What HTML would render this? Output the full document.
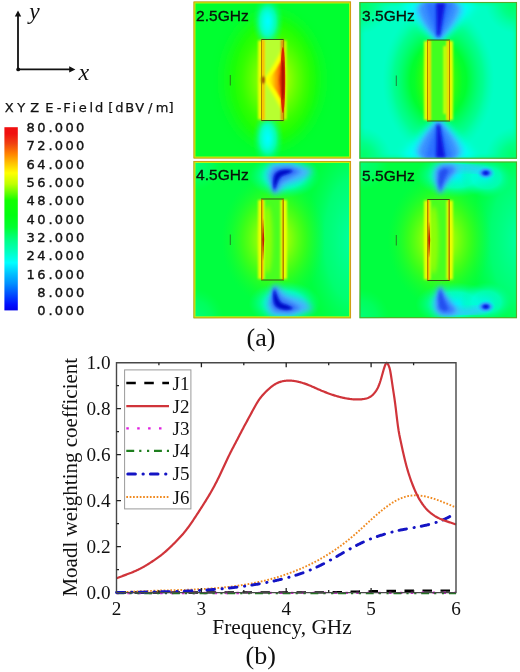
<!DOCTYPE html>
<html><head><meta charset="utf-8"><style>
html,body{margin:0;padding:0;background:#fff;}
body{width:520px;height:672px;overflow:hidden;position:relative;}
svg{position:absolute;left:0;top:0;}
.tm{font-family:"Liberation Serif",serif;font-size:19.2px;fill:#111;}
.cb{font-family:"DejaVu Sans",sans-serif;font-size:13px;fill:#111;stroke:#111;stroke-width:0.38px;}
.cbt{font-family:"DejaVu Sans",sans-serif;font-size:13px;fill:#111;stroke:#111;stroke-width:0.25px;}
.it{font-family:"Liberation Serif",serif;font-style:italic;font-size:22px;fill:#111;}
.pl{font-family:"Liberation Sans",sans-serif;font-size:15.5px;fill:#0a140a;stroke:#0a140a;stroke-width:0.35px;}
</style></head><body>
<svg width="520" height="672" viewBox="0 0 520 672">
<defs>
<filter id="b05" x="-50%" y="-50%" width="200%" height="200%"><feGaussianBlur stdDeviation="0.6"/></filter>
<filter id="b1" x="-50%" y="-50%" width="200%" height="200%"><feGaussianBlur stdDeviation="1"/></filter>
<filter id="b15" x="-50%" y="-50%" width="200%" height="200%"><feGaussianBlur stdDeviation="1.5"/></filter>
<filter id="b2" x="-50%" y="-50%" width="200%" height="200%"><feGaussianBlur stdDeviation="2"/></filter>
<filter id="b3" x="-50%" y="-50%" width="200%" height="200%"><feGaussianBlur stdDeviation="3"/></filter>
<filter id="b4" x="-50%" y="-50%" width="200%" height="200%"><feGaussianBlur stdDeviation="4"/></filter>
<filter id="b5" x="-50%" y="-50%" width="200%" height="200%"><feGaussianBlur stdDeviation="5"/></filter>
<filter id="b8" x="-50%" y="-50%" width="200%" height="200%"><feGaussianBlur stdDeviation="8"/></filter>
<radialGradient id="halo1" ><stop offset="0" stop-color="#b8ff00" stop-opacity="1"/><stop offset="0.3" stop-color="#98ff00" stop-opacity="0.95"/><stop offset="0.6" stop-color="#58ff00" stop-opacity="0.75"/><stop offset="0.85" stop-color="#28ff00" stop-opacity="0.35"/><stop offset="1" stop-color="#00ff00" stop-opacity="0"/></radialGradient>
<radialGradient id="cyan1" ><stop offset="0" stop-color="#00ffff" stop-opacity="1"/><stop offset="0.5" stop-color="#00ffd8" stop-opacity="0.7"/><stop offset="1" stop-color="#00ff60" stop-opacity="0"/></radialGradient>
<radialGradient id="green2" ><stop offset="0" stop-color="#30ff00" stop-opacity="1"/><stop offset="0.5" stop-color="#00ff30" stop-opacity="1"/><stop offset="0.8" stop-color="#00ff70" stop-opacity="0.6"/><stop offset="1" stop-color="#00ffa0" stop-opacity="0"/></radialGradient>
<radialGradient id="yg2" ><stop offset="0" stop-color="#a0ff00" stop-opacity="1"/><stop offset="0.5" stop-color="#60ff00" stop-opacity="0.7"/><stop offset="1" stop-color="#30ff00" stop-opacity="0"/></radialGradient>
<radialGradient id="yg3" ><stop offset="0" stop-color="#c0ff00" stop-opacity="1"/><stop offset="0.3" stop-color="#a0ff00" stop-opacity="0.9"/><stop offset="0.6" stop-color="#60ff00" stop-opacity="0.6"/><stop offset="1" stop-color="#20ff20" stop-opacity="0"/></radialGradient>
<radialGradient id="cyanS" ><stop offset="0" stop-color="#00f0ff" stop-opacity="1"/><stop offset="0.55" stop-color="#00ffe0" stop-opacity="0.75"/><stop offset="1" stop-color="#00ff90" stop-opacity="0"/></radialGradient>
<radialGradient id="cornG" ><stop offset="0" stop-color="#00ff50" stop-opacity="1"/><stop offset="0.5" stop-color="#00ff70" stop-opacity="0.7"/><stop offset="1" stop-color="#00ff90" stop-opacity="0"/></radialGradient>
<radialGradient id="aqua" ><stop offset="0" stop-color="#00ffa0" stop-opacity="1"/><stop offset="0.6" stop-color="#00ff90" stop-opacity="0.6"/><stop offset="1" stop-color="#00ff70" stop-opacity="0"/></radialGradient>
<radialGradient id="lblue" ><stop offset="0" stop-color="#50a8ff" stop-opacity="1"/><stop offset="0.5" stop-color="#30d0ff" stop-opacity="0.8"/><stop offset="1" stop-color="#00ffff" stop-opacity="0"/></radialGradient>
<radialGradient id="blueDot" ><stop offset="0" stop-color="#0818c8" stop-opacity="1"/><stop offset="0.22" stop-color="#1038f0" stop-opacity="1"/><stop offset="0.5" stop-color="#3a90ff" stop-opacity="0.85"/><stop offset="1" stop-color="#00ffff" stop-opacity="0"/></radialGradient>
<linearGradient id="fanO" x1="0" y1="0" x2="1" y2="0"><stop offset="0" stop-color="#ffe000" stop-opacity="0"/><stop offset="0.45" stop-color="#ffb000"/><stop offset="0.8" stop-color="#ff6000"/><stop offset="1" stop-color="#f03000"/></linearGradient>
</defs>
<clipPath id="cp1"><rect x="0" y="0" width="157.5" height="157.0"/></clipPath>
<g transform="translate(193.5,1.5)">
<g clip-path="url(#cp1)">
<rect x="0" y="0" width="157.5" height="157.0" fill="#00ff30"/>
<ellipse cx="78.9" cy="78.5" rx="46" ry="64" fill="#20ff00" filter="url(#b8)"/>
<ellipse cx="80.9" cy="78.5" rx="46" ry="64" fill="url(#halo1)"/>
<g>
<ellipse cx="74.5" cy="20" rx="16" ry="28" fill="url(#cyan1)"/>
<ellipse cx="73.5" cy="22" rx="5.5" ry="14" fill="#00ffff" opacity="0.7" filter="url(#b3)"/>
</g>
<g transform="translate(0,157.0) scale(1,-1)">
<ellipse cx="74.5" cy="20" rx="16" ry="28" fill="url(#cyan1)"/>
<ellipse cx="73.5" cy="22" rx="5.5" ry="14" fill="#00ffff" opacity="0.7" filter="url(#b3)"/>
</g>
<rect x="68.0" y="38.0" width="22.0" height="81.0" fill="#b8ff30"/>
<g filter="url(#b1)" opacity="0.95">
<rect x="64.6" y="39.0" width="6.4" height="79.0" fill="#f4ff00"/>
<rect x="90.0" y="39.0" width="3" height="79.0" fill="#e0ff00"/>
</g>
<g filter="url(#b15)"><path d="M70,78.5 Q82,62 90,44 L90,113 Q82,95 70,78.5 Z" fill="#ffff00"/></g>
<g filter="url(#b1)"><path d="M74,78.5 Q84,68 90,54 L90,103 Q84,89 74,78.5 Z" fill="url(#fanO)"/><path d="M90,44 L85.5,78.5 L90,113 Z" fill="#d01c00"/><rect x="87.8" y="38" width="2.2" height="81" fill="#f06000"/><rect x="68.5" y="38" width="2.3" height="81" fill="#ffa800"/><ellipse cx="69.6" cy="78.5" rx="1.6" ry="4" fill="#a03000"/></g>
<path d="M67.6,38.0 H90.4 M67.6,119.0 H90.4" stroke="#304018" stroke-width="0.9"/>
<path d="M68.0,38.0 V119.0 M90.0,38.0 V119.0" stroke="#a87800" stroke-width="1" opacity="0.9"/>
<ellipse cx="89.4" cy="78.5" rx="2.3" ry="33" fill="#d82800" filter="url(#b05)"/>
<ellipse cx="89.4" cy="78.5" rx="1.3" ry="20" fill="#b01800" filter="url(#b05)"/>
<path d="M36.8,73.5 V84" stroke="#304020" stroke-width="0.8" opacity="0.85"/>
</g>
<rect x="1.2" y="1.2" width="155.1" height="154.6" fill="none" stroke="#e8f000" stroke-width="1.6" opacity="0.8"/>
<rect x="0.4" y="0.4" width="156.7" height="156.2" fill="none" stroke="#e09010" stroke-width="0.9"/>
<text x="2.6" y="19.0" class="pl">2.5GHz</text>
</g>
<clipPath id="cp2"><rect x="0" y="0" width="157.5" height="156.7"/></clipPath>
<g transform="translate(359.5,2.0)">
<g clip-path="url(#cp2)">
<rect x="0" y="0" width="157.5" height="156.7" fill="#00ffc4"/>
<ellipse cx="0.0" cy="0.0" rx="32" ry="32" fill="url(#cornG)"/>
<ellipse cx="157.5" cy="0.0" rx="32" ry="32" fill="url(#cornG)"/>
<ellipse cx="0.0" cy="156.7" rx="32" ry="32" fill="url(#cornG)"/>
<ellipse cx="157.5" cy="156.7" rx="32" ry="32" fill="url(#cornG)"/>
<rect x="0" y="0" width="157.5" height="156.7" fill="none" stroke="#00ff80" stroke-width="3" filter="url(#b2)"/>
<ellipse cx="78.9" cy="78.5" rx="56" ry="76" fill="url(#green2)"/>
<ellipse cx="78.9" cy="78.5" rx="24" ry="50" fill="url(#yg2)"/>
<g>
<path d="M78.9,44 L40,0 L118,0 Z" fill="#00ffff" filter="url(#b5)"/>
<path d="M78.9,39 Q62,24 56,8 Q57,1 64,0 L95,0 Q102,1 103,8 Q97,24 78.9,39 Z" fill="#48b0ff" filter="url(#b3)"/>
<path d="M78.9,37 Q64,22 60,6 Q62,1 66,0 L93,0 Q97,1 98,6 Q94,22 78.9,37 Z" fill="#3890ff" filter="url(#b2)"/>
<path d="M78.9,36 Q70,18 66,1 L93,1 Q88,18 78.9,36 Z" fill="#2a70ff" filter="url(#b2)"/>
<path d="M77.3,34 L80.3,34 L86,1 L76.5,1 Z" fill="#0818e0" filter="url(#b15)"/>
</g>
<g transform="translate(0,156.7) scale(1,-1)">
<path d="M78.9,44 L40,0 L118,0 Z" fill="#00ffff" filter="url(#b5)"/>
<path d="M78.9,39 Q62,24 56,8 Q57,1 64,0 L95,0 Q102,1 103,8 Q97,24 78.9,39 Z" fill="#48b0ff" filter="url(#b3)"/>
<path d="M78.9,37 Q64,22 60,6 Q62,1 66,0 L93,0 Q97,1 98,6 Q94,22 78.9,37 Z" fill="#3890ff" filter="url(#b2)"/>
<path d="M78.9,36 Q70,18 66,1 L93,1 Q88,18 78.9,36 Z" fill="#2a70ff" filter="url(#b2)"/>
<path d="M77.3,34 L80.3,34 L86,1 L76.5,1 Z" fill="#0818e0" filter="url(#b15)"/>
</g>
<rect x="68.0" y="38.0" width="22.0" height="81.0" fill="#40ff20"/>
<g filter="url(#b1)" opacity="0.95">
<rect x="64.6" y="39.0" width="6.4" height="79.0" fill="#f4ff00"/>
<rect x="87.0" y="39.0" width="6.4" height="79.0" fill="#f4ff00"/>
</g>
<g filter="url(#b1)"><rect x="68.5" y="38" width="2.4" height="81" fill="#ffc000"/><rect x="84" y="44" width="2.6" height="68" fill="#e0ff00"/><rect x="87.8" y="38" width="2" height="81" fill="#f8c800"/></g>
<path d="M67.6,38.0 H90.4 M67.6,119.0 H90.4" stroke="#304018" stroke-width="0.9"/>
<path d="M68.0,38.0 V119.0 M90.0,38.0 V119.0" stroke="#a87800" stroke-width="1" opacity="0.9"/>
<path d="M36.8,73.5 V84" stroke="#304020" stroke-width="0.8" opacity="0.85"/>
</g>
<rect x="0.5" y="0.5" width="156.5" height="155.7" fill="none" stroke="#60a020" stroke-width="1.1" opacity="0.9"/>
<text x="2.6" y="19.0" class="pl">3.5GHz</text>
</g>
<clipPath id="cp3"><rect x="0" y="0" width="157.5" height="157.3"/></clipPath>
<g transform="translate(193.5,161.0)">
<g clip-path="url(#cp3)">
<rect x="0" y="0" width="157.5" height="157.3" fill="#00ff40"/>
<ellipse cx="158" cy="78.5" rx="45" ry="100" fill="url(#aqua)"/>
<ellipse cx="0" cy="0" rx="30" ry="30" fill="url(#aqua)" opacity="0.6"/>
<ellipse cx="0" cy="157.3" rx="30" ry="30" fill="url(#aqua)" opacity="0.6"/>
<ellipse cx="79.9" cy="78.5" rx="52" ry="66" fill="url(#yg3)"/>
<g>
<ellipse cx="91" cy="15" rx="36" ry="22" fill="url(#cyanS)"/>
<path d="M81,35 L73,14 L77,3 L96,2 L120,9 L110,18 L92,24 Z" fill="#48b0ff" filter="url(#b3)"/>
<path d="M81,32 L77,15 L81,7 L96,5.5 L108,10 L98,16 L88,21 Z" fill="#3a78f8" filter="url(#b2)"/>
<path d="M80.7,31 C79,25 78.5,17 81,12.5 C85,8 94,7 101,10.5 C96,13 91,13.5 88,15.5 C85,19 83.5,25 80.7,31 Z" fill="#1848f0" filter="url(#b15)"/>
<path d="M80.8,28 C80,22 80,16 82.5,12.5 C86,8.7 93,8.2 99,9.6 C96,12.5 92,13.2 88,14.8 C84.5,17.5 83,22 80.8,28 Z" fill="#0010c8" filter="url(#b1)"/>
</g>
<g transform="translate(0,157.3) scale(1,-1)">
<ellipse cx="91" cy="15" rx="36" ry="22" fill="url(#cyanS)"/>
<path d="M81,35 L73,14 L77,3 L96,2 L120,9 L110,18 L92,24 Z" fill="#48b0ff" filter="url(#b3)"/>
<path d="M81,32 L77,15 L81,7 L96,5.5 L108,10 L98,16 L88,21 Z" fill="#3a78f8" filter="url(#b2)"/>
<path d="M80.7,31 C79,25 78.5,17 81,12.5 C85,8 94,7 101,10.5 C96,13 91,13.5 88,15.5 C85,19 83.5,25 80.7,31 Z" fill="#1848f0" filter="url(#b15)"/>
<path d="M80.8,28 C80,22 80,16 82.5,12.5 C86,8.7 93,8.2 99,9.6 C96,12.5 92,13.2 88,14.8 C84.5,17.5 83,22 80.8,28 Z" fill="#0010c8" filter="url(#b1)"/>
</g>
<rect x="68.0" y="38.0" width="22.0" height="81.0" fill="#48ff20"/>
<ellipse cx="74" cy="78.5" rx="5" ry="34" fill="#a0ff00" opacity="0.8" filter="url(#b2)"/>
<g filter="url(#b1)" opacity="0.95">
<rect x="64.6" y="39.0" width="6.4" height="79.0" fill="#f4ff00"/>
<rect x="87.0" y="39.0" width="6.4" height="79.0" fill="#f4ff00"/>
</g>
<g filter="url(#b05)"><rect x="68.4" y="38" width="1.4" height="81" fill="#f0b000"/><rect x="88.4" y="38" width="1.2" height="81" fill="#d0b000"/><path d="M69.5,57 L70.7,78.5 L69.5,100 L68.7,78.5 Z" fill="#c02000"/></g>
<path d="M67.6,38.0 H90.4 M67.6,119.0 H90.4" stroke="#304018" stroke-width="0.9"/>
<path d="M68.0,38.0 V119.0 M90.0,38.0 V119.0" stroke="#a87800" stroke-width="1" opacity="0.9"/>
<path d="M36.8,73.5 V84" stroke="#304020" stroke-width="0.8" opacity="0.85"/>
</g>
<rect x="1.2" y="1.2" width="155.1" height="154.9" fill="none" stroke="#e8f000" stroke-width="1.6" opacity="0.8"/>
<rect x="0.4" y="0.4" width="156.7" height="156.5" fill="none" stroke="#e09010" stroke-width="0.9"/>
<text x="2.6" y="19.0" class="pl">4.5GHz</text>
</g>
<clipPath id="cp4"><rect x="0" y="0" width="157.5" height="156.7"/></clipPath>
<g transform="translate(359.5,161.5)">
<g clip-path="url(#cp4)">
<rect x="0" y="0" width="157.5" height="156.7" fill="#00ff40"/>
<ellipse cx="158" cy="78.5" rx="45" ry="100" fill="url(#aqua)"/>
<ellipse cx="0" cy="0" rx="30" ry="30" fill="url(#aqua)" opacity="0.6"/>
<ellipse cx="0" cy="156.7" rx="30" ry="30" fill="url(#aqua)" opacity="0.6"/>
<ellipse cx="79.9" cy="78.5" rx="52" ry="66" fill="url(#yg3)"/>
<g>
<ellipse cx="96" cy="14" rx="40" ry="22" fill="url(#cyanS)"/>
<ellipse cx="127" cy="16" rx="26" ry="20" fill="url(#cyanS)" opacity="0.8"/>
<path d="M88,8 C98,4 112,5 124,10" fill="none" stroke="#30c8ff" stroke-width="7" stroke-linecap="round" filter="url(#b3)"/>
<path d="M80.4,34 L74,16 L76,5 L84,2 L96,3 L100,8 L92,16 L85,25 Z" fill="#50b0ff" filter="url(#b3)"/>
<path d="M80.4,32.5 L77.5,20 L77.8,9 L82,4.5 L92,4.5 L96,8 L90,15 L84,24 Z" fill="#3878ff" filter="url(#b2)"/>
<path d="M80.6,30 L79,20 L80,10 L85,7 L89,9 L85,17 L82,25 Z" fill="#2050f0" filter="url(#b15)"/>
<ellipse cx="126.3" cy="11.5" rx="10" ry="7" fill="url(#blueDot)"/>
</g>
<g transform="translate(0,156.7) scale(1,-1)">
<ellipse cx="96" cy="14" rx="40" ry="22" fill="url(#cyanS)"/>
<ellipse cx="127" cy="16" rx="26" ry="20" fill="url(#cyanS)" opacity="0.8"/>
<path d="M88,8 C98,4 112,5 124,10" fill="none" stroke="#30c8ff" stroke-width="7" stroke-linecap="round" filter="url(#b3)"/>
<path d="M80.4,34 L74,16 L76,5 L84,2 L96,3 L100,8 L92,16 L85,25 Z" fill="#50b0ff" filter="url(#b3)"/>
<path d="M80.4,32.5 L77.5,20 L77.8,9 L82,4.5 L92,4.5 L96,8 L90,15 L84,24 Z" fill="#3878ff" filter="url(#b2)"/>
<path d="M80.6,30 L79,20 L80,10 L85,7 L89,9 L85,17 L82,25 Z" fill="#2050f0" filter="url(#b15)"/>
<ellipse cx="126.3" cy="11.5" rx="10" ry="7" fill="url(#blueDot)"/>
</g>
<rect x="68.0" y="38.0" width="22.0" height="81.0" fill="#48ff20"/>
<ellipse cx="74" cy="78.5" rx="5" ry="34" fill="#a0ff00" opacity="0.8" filter="url(#b2)"/>
<g filter="url(#b1)" opacity="0.95">
<rect x="64.6" y="39.0" width="6.4" height="79.0" fill="#f4ff00"/>
<rect x="87.0" y="39.0" width="6.4" height="79.0" fill="#f4ff00"/>
</g>
<g filter="url(#b05)"><rect x="68.4" y="38" width="1.4" height="81" fill="#f0b000"/><rect x="88.4" y="38" width="1.2" height="81" fill="#d0b000"/><path d="M69.5,60 L70.7,78.5 L69.5,97 L68.7,78.5 Z" fill="#c02000"/></g>
<path d="M67.6,38.0 H90.4 M67.6,119.0 H90.4" stroke="#304018" stroke-width="0.9"/>
<path d="M68.0,38.0 V119.0 M90.0,38.0 V119.0" stroke="#a87800" stroke-width="1" opacity="0.9"/>
<path d="M36.8,73.5 V84" stroke="#304020" stroke-width="0.8" opacity="0.85"/>
</g>
<rect x="0.5" y="0.5" width="156.5" height="155.7" fill="none" stroke="#60a020" stroke-width="1.1" opacity="0.9"/>
<text x="2.6" y="19.0" class="pl">5.5GHz</text>
</g>
<defs><linearGradient id="cbg" x1="0" y1="0" x2="0" y2="1"><stop offset="0" stop-color="#f01010"/><stop offset="0.035" stop-color="#f01010"/><stop offset="0.088" stop-color="#f04010"/><stop offset="0.143" stop-color="#ff8000"/><stop offset="0.195" stop-color="#ffc000"/><stop offset="0.25" stop-color="#ffff00"/><stop offset="0.31" stop-color="#c0ff00"/><stop offset="0.36" stop-color="#60ff00"/><stop offset="0.40" stop-color="#10ff00"/><stop offset="0.48" stop-color="#00ff10"/><stop offset="0.545" stop-color="#00ff30"/><stop offset="0.61" stop-color="#00ff80"/><stop offset="0.68" stop-color="#00ffc0"/><stop offset="0.74" stop-color="#00ffff"/><stop offset="0.80" stop-color="#00c0ff"/><stop offset="0.853" stop-color="#0090ff"/><stop offset="0.91" stop-color="#0050ff"/><stop offset="0.967" stop-color="#0010ff"/><stop offset="1" stop-color="#0000e8"/></linearGradient></defs>
<rect x="4.4" y="127.2" width="13.4" height="183.2" fill="url(#cbg)"/>
<text x="26.62 37.24 48.61 54.74 65.39 76.04" y="132.10" class="cb">80.000</text>
<text x="26.62 37.24 48.61 54.74 65.39 76.04" y="150.40" class="cb">72.000</text>
<text x="26.62 37.24 48.61 54.74 65.39 76.04" y="168.70" class="cb">64.000</text>
<text x="26.62 37.24 48.61 54.74 65.39 76.04" y="187.00" class="cb">56.000</text>
<text x="26.62 37.24 48.61 54.74 65.39 76.04" y="205.30" class="cb">48.000</text>
<text x="26.62 37.24 48.61 54.74 65.39 76.04" y="223.60" class="cb">40.000</text>
<text x="26.62 37.24 48.61 54.74 65.39 76.04" y="241.90" class="cb">32.000</text>
<text x="26.62 37.24 48.61 54.74 65.39 76.04" y="260.20" class="cb">24.000</text>
<text x="26.62 37.24 48.61 54.74 65.39 76.04" y="278.50" class="cb">16.000</text>
<text x="37.24 48.61 54.74 65.39 76.04" y="296.80" class="cb">8.000</text>
<text x="37.24 48.61 54.74 65.39 76.04" y="315.10" class="cb">0.000</text>
<text x="4.83 17.32 30.24 40.00 45.17 56.64 63.17 72.57 78.71 89.42 94.91 103.00 108.13 115.21 125.27 135.20 148.00 155.66 168.39" y="111.5" class="cbt">XYZ E-Field [dBV/m]</text>
<path d="M18,69.4 V15 M18,69.4 H70" stroke="#111" stroke-width="1.8" fill="none"/>
<path d="M14.8,16.6 L18,10.4 L21.2,16.6 Z" fill="#111"/>
<path d="M69.2,66.2 L75.4,69.4 L69.2,72.6 Z" fill="#111"/>
<circle cx="18.2" cy="69.4" r="1.9" fill="#111"/>
<text x="29.3" y="19" class="it" style="font-size:23.5px">y</text>
<text x="78.4" y="79.6" class="it" style="font-size:24px">x</text>
<rect x="124.6" y="369.9" width="66.3" height="139" fill="#fff" stroke="#9a9a9a" stroke-width="1"/>
<path d="M116.50,592.50 L117.20,592.50 L117.90,592.50 L118.60,592.50 L119.30,592.50 L120.00,592.50 L120.70,592.50 L121.40,592.50 L122.10,592.50 L122.80,592.50 L123.50,592.50 L124.20,592.50 L124.90,592.50 L125.60,592.50 L126.30,592.50 L127.00,592.50 L127.70,592.50 L128.40,592.50 L129.10,592.50 L129.80,592.50 L130.50,592.50 L131.20,592.50 L131.90,592.50 L132.60,592.50 L133.30,592.50 L134.00,592.50 L134.70,592.50 L135.40,592.50 L136.10,592.50 L136.80,592.50 L137.50,592.50 L138.20,592.50 L138.90,592.50 L139.60,592.50 L140.30,592.50 L141.00,592.50 L141.70,592.50 L142.40,592.50 L143.10,592.50 L143.80,592.50 L144.50,592.50 L145.20,592.50 L145.90,592.50 L146.60,592.50 L147.30,592.50 L148.00,592.50 L148.70,592.50 L149.40,592.50 L150.10,592.50 L150.80,592.50 L151.50,592.50 L152.20,592.50 L152.90,592.50 L153.60,592.50 L154.30,592.50 L155.00,592.50 L155.70,592.50 L156.40,592.50 L157.10,592.50 L157.80,592.50 L158.50,592.50 L159.20,592.50 L159.90,592.50 L160.60,592.50 L161.30,592.49 L162.00,592.49 L162.70,592.49 L163.40,592.49 L164.10,592.49 L164.80,592.49 L165.50,592.49 L166.20,592.49 L166.90,592.49 L167.60,592.49 L168.30,592.49 L169.00,592.49 L169.70,592.49 L170.40,592.49 L171.10,592.49 L171.80,592.49 L172.50,592.49 L173.20,592.49 L173.90,592.49 L174.60,592.49 L175.30,592.49 L176.00,592.49 L176.70,592.49 L177.40,592.49 L178.10,592.49 L178.80,592.49 L179.50,592.49 L180.20,592.49 L180.90,592.49 L181.60,592.49 L182.30,592.49 L183.00,592.49 L183.70,592.49 L184.40,592.49 L185.10,592.49 L185.80,592.49 L186.50,592.49 L187.20,592.49 L187.90,592.49 L188.60,592.49 L189.30,592.48 L190.00,592.48 L190.70,592.48 L191.40,592.48 L192.10,592.48 L192.80,592.48 L193.50,592.48 L194.20,592.48 L194.90,592.48 L195.60,592.48 L196.30,592.48 L197.00,592.48 L197.70,592.48 L198.40,592.48 L199.10,592.48 L199.80,592.48 L200.50,592.48 L201.20,592.48 L201.90,592.48 L202.60,592.48 L203.30,592.48 L204.00,592.48 L204.70,592.48 L205.40,592.48 L206.10,592.48 L206.80,592.48 L207.50,592.47 L208.20,592.47 L208.90,592.47 L209.60,592.47 L210.30,592.47 L211.00,592.47 L211.70,592.47 L212.40,592.47 L213.10,592.47 L213.80,592.47 L214.50,592.47 L215.20,592.47 L215.90,592.47 L216.60,592.47 L217.30,592.47 L218.00,592.47 L218.70,592.47 L219.40,592.47 L220.10,592.47 L220.80,592.47 L221.50,592.46 L222.20,592.46 L222.90,592.46 L223.60,592.46 L224.30,592.46 L225.00,592.46 L225.70,592.46 L226.40,592.46 L227.10,592.46 L227.80,592.46 L228.50,592.46 L229.20,592.46 L229.90,592.46 L230.60,592.46 L231.30,592.46 L232.00,592.46 L232.70,592.45 L233.40,592.45 L234.10,592.45 L234.80,592.45 L235.50,592.45 L236.20,592.45 L236.90,592.45 L237.60,592.45 L238.30,592.45 L239.00,592.45 L239.70,592.45 L240.40,592.45 L241.10,592.45 L241.80,592.45 L242.50,592.45 L243.20,592.44 L243.90,592.44 L244.60,592.44 L245.30,592.44 L246.00,592.44 L246.70,592.44 L247.40,592.44 L248.10,592.44 L248.80,592.44 L249.50,592.44 L250.20,592.44 L250.90,592.44 L251.60,592.44 L252.30,592.43 L253.00,592.43 L253.70,592.43 L254.40,592.43 L255.10,592.43 L255.80,592.43 L256.50,592.43 L257.20,592.43 L257.90,592.43 L258.60,592.43 L259.30,592.43 L260.00,592.43 L260.70,592.42 L261.40,592.42 L262.10,592.42 L262.80,592.42 L263.50,592.42 L264.20,592.42 L264.90,592.42 L265.60,592.42 L266.30,592.42 L267.00,592.42 L267.70,592.41 L268.40,592.41 L269.10,592.41 L269.80,592.41 L270.50,592.41 L271.20,592.41 L271.90,592.41 L272.60,592.41 L273.30,592.41 L274.00,592.41 L274.70,592.41 L275.40,592.40 L276.10,592.40 L276.80,592.40 L277.50,592.40 L278.20,592.40 L278.90,592.40 L279.60,592.40 L280.30,592.40 L281.00,592.40 L281.70,592.39 L282.40,592.39 L283.10,592.39 L283.80,592.39 L284.50,592.39 L285.20,592.39 L285.90,592.39 L286.60,592.39 L287.30,592.39 L288.00,592.38 L288.70,592.38 L289.40,592.38 L290.10,592.38 L290.80,592.38 L291.50,592.38 L292.20,592.38 L292.90,592.38 L293.60,592.37 L294.30,592.37 L295.00,592.37 L295.70,592.37 L296.40,592.37 L297.10,592.37 L297.80,592.37 L298.50,592.37 L299.20,592.36 L299.90,592.36 L300.60,592.36 L301.30,592.36 L302.00,592.36 L302.70,592.36 L303.40,592.36 L304.10,592.36 L304.80,592.35 L305.50,592.35 L306.20,592.35 L306.90,592.35 L307.60,592.35 L308.30,592.35 L309.00,592.35 L309.70,592.34 L310.40,592.34 L311.10,592.34 L311.80,592.34 L312.50,592.34 L313.20,592.34 L313.90,592.34 L314.60,592.33 L315.30,592.33 L316.00,592.33 L316.70,592.33 L317.40,592.33 L318.10,592.33 L318.80,592.33 L319.50,592.32 L320.20,592.32 L320.90,592.32 L321.60,592.32 L322.30,592.32 L323.00,592.32 L323.70,592.31 L324.40,592.31 L325.10,592.31 L325.80,592.31 L326.50,592.31 L327.20,592.31 L327.90,592.30 L328.60,592.30 L329.30,592.30 L330.00,592.30 L330.70,592.30 L331.40,592.29 L332.10,592.29 L332.80,592.28 L333.50,592.27 L334.20,592.26 L334.90,592.25 L335.60,592.24 L336.30,592.22 L337.00,592.21 L337.70,592.19 L338.40,592.17 L339.10,592.15 L339.80,592.14 L340.50,592.12 L341.20,592.09 L341.90,592.07 L342.60,592.05 L343.30,592.03 L344.00,592.00 L344.70,591.98 L345.40,591.96 L346.10,591.93 L346.80,591.91 L347.50,591.88 L348.20,591.86 L348.90,591.84 L349.60,591.81 L350.30,591.79 L351.00,591.76 L351.70,591.74 L352.40,591.72 L353.10,591.69 L353.80,591.67 L354.50,591.65 L355.20,591.63 L355.90,591.60 L356.60,591.58 L357.30,591.57 L358.00,591.55 L358.70,591.53 L359.40,591.51 L360.10,591.50 L360.80,591.48 L361.50,591.47 L362.20,591.45 L362.90,591.44 L363.60,591.42 L364.30,591.41 L365.00,591.39 L365.70,591.38 L366.40,591.36 L367.10,591.35 L367.80,591.33 L368.50,591.31 L369.20,591.30 L369.90,591.28 L370.60,591.27 L371.30,591.25 L372.00,591.24 L372.70,591.22 L373.40,591.21 L374.10,591.19 L374.80,591.18 L375.50,591.16 L376.20,591.15 L376.90,591.14 L377.60,591.12 L378.30,591.11 L379.00,591.09 L379.70,591.08 L380.40,591.07 L381.10,591.05 L381.80,591.04 L382.50,591.03 L383.20,591.01 L383.90,591.00 L384.60,590.99 L385.30,590.98 L386.00,590.97 L386.70,590.95 L387.40,590.94 L388.10,590.93 L388.80,590.92 L389.50,590.91 L390.20,590.90 L390.90,590.89 L391.60,590.88 L392.30,590.87 L393.00,590.86 L393.70,590.86 L394.40,590.85 L395.10,590.84 L395.80,590.83 L396.50,590.83 L397.20,590.82 L397.90,590.81 L398.60,590.81 L399.30,590.80 L400.00,590.80 L400.70,590.80 L401.40,590.79 L402.10,590.79 L402.80,590.78 L403.50,590.78 L404.20,590.77 L404.90,590.77 L405.60,590.77 L406.30,590.76 L407.00,590.76 L407.70,590.75 L408.40,590.75 L409.10,590.75 L409.80,590.74 L410.50,590.74 L411.20,590.74 L411.90,590.73 L412.60,590.73 L413.30,590.72 L414.00,590.72 L414.70,590.72 L415.40,590.71 L416.10,590.71 L416.80,590.71 L417.50,590.70 L418.20,590.70 L418.90,590.70 L419.60,590.69 L420.30,590.69 L421.00,590.69 L421.70,590.68 L422.40,590.68 L423.10,590.68 L423.80,590.67 L424.50,590.67 L425.20,590.67 L425.90,590.67 L426.60,590.66 L427.30,590.66 L428.00,590.66 L428.70,590.65 L429.40,590.65 L430.10,590.65 L430.80,590.65 L431.50,590.64 L432.20,590.64 L432.90,590.64 L433.60,590.64 L434.30,590.64 L435.00,590.63 L435.70,590.63 L436.40,590.63 L437.10,590.63 L437.80,590.63 L438.50,590.62 L439.20,590.62 L439.90,590.62 L440.60,590.62 L441.30,590.62 L442.00,590.62 L442.70,590.61 L443.40,590.61 L444.10,590.61 L444.80,590.61 L445.50,590.61 L446.20,590.61 L446.90,590.61 L447.60,590.61 L448.30,590.60 L449.00,590.60 L449.70,590.60 L450.40,590.60 L451.10,590.60 L451.80,590.60 L452.50,590.60 L453.20,590.60 L453.90,590.60 L454.60,590.60 L455.30,590.60 L456.00,590.60 L456.00,590.60" fill="none" stroke="#000" stroke-width="2.3" stroke-dasharray="9.5,8.5"/>
<path d="M116.50,593.00 L117.20,593.00 L117.90,593.00 L118.60,593.00 L119.30,593.00 L120.00,593.00 L120.70,593.00 L121.40,593.00 L122.10,593.00 L122.80,593.00 L123.50,593.00 L124.20,593.00 L124.90,593.00 L125.60,592.99 L126.30,592.99 L127.00,592.99 L127.70,592.99 L128.40,592.99 L129.10,592.99 L129.80,592.99 L130.50,592.99 L131.20,592.99 L131.90,592.99 L132.60,592.99 L133.30,592.99 L134.00,592.99 L134.70,592.99 L135.40,592.99 L136.10,592.99 L136.80,592.99 L137.50,592.99 L138.20,592.99 L138.90,592.99 L139.60,592.99 L140.30,592.99 L141.00,592.99 L141.70,592.99 L142.40,592.98 L143.10,592.98 L143.80,592.98 L144.50,592.98 L145.20,592.98 L145.90,592.98 L146.60,592.98 L147.30,592.98 L148.00,592.98 L148.70,592.98 L149.40,592.98 L150.10,592.98 L150.80,592.98 L151.50,592.98 L152.20,592.98 L152.90,592.98 L153.60,592.98 L154.30,592.98 L155.00,592.98 L155.70,592.98 L156.40,592.98 L157.10,592.98 L157.80,592.98 L158.50,592.98 L159.20,592.97 L159.90,592.97 L160.60,592.97 L161.30,592.97 L162.00,592.97 L162.70,592.97 L163.40,592.97 L164.10,592.97 L164.80,592.97 L165.50,592.97 L166.20,592.97 L166.90,592.97 L167.60,592.97 L168.30,592.97 L169.00,592.97 L169.70,592.97 L170.40,592.97 L171.10,592.97 L171.80,592.97 L172.50,592.97 L173.20,592.97 L173.90,592.97 L174.60,592.97 L175.30,592.97 L176.00,592.96 L176.70,592.96 L177.40,592.96 L178.10,592.96 L178.80,592.96 L179.50,592.96 L180.20,592.96 L180.90,592.96 L181.60,592.96 L182.30,592.96 L183.00,592.96 L183.70,592.96 L184.40,592.96 L185.10,592.96 L185.80,592.96 L186.50,592.96 L187.20,592.96 L187.90,592.96 L188.60,592.96 L189.30,592.96 L190.00,592.96 L190.70,592.96 L191.40,592.96 L192.10,592.96 L192.80,592.96 L193.50,592.95 L194.20,592.95 L194.90,592.95 L195.60,592.95 L196.30,592.95 L197.00,592.95 L197.70,592.95 L198.40,592.95 L199.10,592.95 L199.80,592.95 L200.50,592.95 L201.20,592.95 L201.90,592.95 L202.60,592.95 L203.30,592.95 L204.00,592.95 L204.70,592.95 L205.40,592.95 L206.10,592.95 L206.80,592.95 L207.50,592.95 L208.20,592.95 L208.90,592.95 L209.60,592.95 L210.30,592.94 L211.00,592.94 L211.70,592.94 L212.40,592.94 L213.10,592.94 L213.80,592.94 L214.50,592.94 L215.20,592.94 L215.90,592.94 L216.60,592.94 L217.30,592.94 L218.00,592.94 L218.70,592.94 L219.40,592.94 L220.10,592.94 L220.80,592.94 L221.50,592.94 L222.20,592.94 L222.90,592.94 L223.60,592.94 L224.30,592.94 L225.00,592.94 L225.70,592.94 L226.40,592.94 L227.10,592.93 L227.80,592.93 L228.50,592.93 L229.20,592.93 L229.90,592.93 L230.60,592.93 L231.30,592.93 L232.00,592.93 L232.70,592.93 L233.40,592.93 L234.10,592.93 L234.80,592.93 L235.50,592.93 L236.20,592.93 L236.90,592.93 L237.60,592.93 L238.30,592.93 L239.00,592.93 L239.70,592.93 L240.40,592.93 L241.10,592.93 L241.80,592.93 L242.50,592.93 L243.20,592.93 L243.90,592.92 L244.60,592.92 L245.30,592.92 L246.00,592.92 L246.70,592.92 L247.40,592.92 L248.10,592.92 L248.80,592.92 L249.50,592.92 L250.20,592.92 L250.90,592.92 L251.60,592.92 L252.30,592.92 L253.00,592.92 L253.70,592.92 L254.40,592.92 L255.10,592.92 L255.80,592.92 L256.50,592.92 L257.20,592.92 L257.90,592.92 L258.60,592.92 L259.30,592.92 L260.00,592.92 L260.70,592.92 L261.40,592.91 L262.10,592.91 L262.80,592.91 L263.50,592.91 L264.20,592.91 L264.90,592.91 L265.60,592.91 L266.30,592.91 L267.00,592.91 L267.70,592.91 L268.40,592.91 L269.10,592.91 L269.80,592.91 L270.50,592.91 L271.20,592.91 L271.90,592.91 L272.60,592.91 L273.30,592.91 L274.00,592.91 L274.70,592.91 L275.40,592.91 L276.10,592.91 L276.80,592.91 L277.50,592.91 L278.20,592.90 L278.90,592.90 L279.60,592.90 L280.30,592.90 L281.00,592.90 L281.70,592.90 L282.40,592.90 L283.10,592.90 L283.80,592.90 L284.50,592.90 L285.20,592.90 L285.90,592.90 L286.60,592.90 L287.30,592.90 L288.00,592.90 L288.70,592.90 L289.40,592.90 L290.10,592.90 L290.80,592.90 L291.50,592.90 L292.20,592.90 L292.90,592.90 L293.60,592.90 L294.30,592.90 L295.00,592.89 L295.70,592.89 L296.40,592.89 L297.10,592.89 L297.80,592.89 L298.50,592.89 L299.20,592.89 L299.90,592.89 L300.60,592.89 L301.30,592.89 L302.00,592.89 L302.70,592.89 L303.40,592.89 L304.10,592.89 L304.80,592.89 L305.50,592.89 L306.20,592.89 L306.90,592.89 L307.60,592.89 L308.30,592.89 L309.00,592.89 L309.70,592.89 L310.40,592.89 L311.10,592.89 L311.80,592.88 L312.50,592.88 L313.20,592.88 L313.90,592.88 L314.60,592.88 L315.30,592.88 L316.00,592.88 L316.70,592.88 L317.40,592.88 L318.10,592.88 L318.80,592.88 L319.50,592.88 L320.20,592.88 L320.90,592.88 L321.60,592.88 L322.30,592.88 L323.00,592.88 L323.70,592.88 L324.40,592.88 L325.10,592.88 L325.80,592.88 L326.50,592.88 L327.20,592.88 L327.90,592.88 L328.60,592.88 L329.30,592.87 L330.00,592.87 L330.70,592.87 L331.40,592.87 L332.10,592.87 L332.80,592.87 L333.50,592.87 L334.20,592.87 L334.90,592.87 L335.60,592.87 L336.30,592.87 L337.00,592.87 L337.70,592.87 L338.40,592.87 L339.10,592.87 L339.80,592.87 L340.50,592.87 L341.20,592.87 L341.90,592.87 L342.60,592.87 L343.30,592.87 L344.00,592.87 L344.70,592.87 L345.40,592.87 L346.10,592.86 L346.80,592.86 L347.50,592.86 L348.20,592.86 L348.90,592.86 L349.60,592.86 L350.30,592.86 L351.00,592.86 L351.70,592.86 L352.40,592.86 L353.10,592.86 L353.80,592.86 L354.50,592.86 L355.20,592.86 L355.90,592.86 L356.60,592.86 L357.30,592.86 L358.00,592.86 L358.70,592.86 L359.40,592.86 L360.10,592.86 L360.80,592.86 L361.50,592.86 L362.20,592.86 L362.90,592.85 L363.60,592.85 L364.30,592.85 L365.00,592.85 L365.70,592.85 L366.40,592.85 L367.10,592.85 L367.80,592.85 L368.50,592.85 L369.20,592.85 L369.90,592.85 L370.60,592.85 L371.30,592.85 L372.00,592.85 L372.70,592.85 L373.40,592.85 L374.10,592.85 L374.80,592.85 L375.50,592.85 L376.20,592.85 L376.90,592.85 L377.60,592.85 L378.30,592.85 L379.00,592.85 L379.70,592.84 L380.40,592.84 L381.10,592.84 L381.80,592.84 L382.50,592.84 L383.20,592.84 L383.90,592.84 L384.60,592.84 L385.30,592.84 L386.00,592.84 L386.70,592.84 L387.40,592.84 L388.10,592.84 L388.80,592.84 L389.50,592.84 L390.20,592.84 L390.90,592.84 L391.60,592.84 L392.30,592.84 L393.00,592.84 L393.70,592.84 L394.40,592.84 L395.10,592.84 L395.80,592.84 L396.50,592.84 L397.20,592.83 L397.90,592.83 L398.60,592.83 L399.30,592.83 L400.00,592.83 L400.70,592.83 L401.40,592.83 L402.10,592.83 L402.80,592.83 L403.50,592.83 L404.20,592.83 L404.90,592.83 L405.60,592.83 L406.30,592.83 L407.00,592.83 L407.70,592.83 L408.40,592.83 L409.10,592.83 L409.80,592.83 L410.50,592.83 L411.20,592.83 L411.90,592.83 L412.60,592.83 L413.30,592.83 L414.00,592.82 L414.70,592.82 L415.40,592.82 L416.10,592.82 L416.80,592.82 L417.50,592.82 L418.20,592.82 L418.90,592.82 L419.60,592.82 L420.30,592.82 L421.00,592.82 L421.70,592.82 L422.40,592.82 L423.10,592.82 L423.80,592.82 L424.50,592.82 L425.20,592.82 L425.90,592.82 L426.60,592.82 L427.30,592.82 L428.00,592.82 L428.70,592.82 L429.40,592.82 L430.10,592.82 L430.80,592.81 L431.50,592.81 L432.20,592.81 L432.90,592.81 L433.60,592.81 L434.30,592.81 L435.00,592.81 L435.70,592.81 L436.40,592.81 L437.10,592.81 L437.80,592.81 L438.50,592.81 L439.20,592.81 L439.90,592.81 L440.60,592.81 L441.30,592.81 L442.00,592.81 L442.70,592.81 L443.40,592.81 L444.10,592.81 L444.80,592.81 L445.50,592.81 L446.20,592.81 L446.90,592.81 L447.60,592.80 L448.30,592.80 L449.00,592.80 L449.70,592.80 L450.40,592.80 L451.10,592.80 L451.80,592.80 L452.50,592.80 L453.20,592.80 L453.90,592.80 L454.60,592.80 L455.30,592.80 L456.00,592.80 L456.00,592.80" fill="none" stroke="#e020e0" stroke-width="2.4" stroke-dasharray="2.5,8.4"/>
<path d="M116.50,593.20 L117.20,593.20 L117.90,593.20 L118.60,593.20 L119.30,593.20 L120.00,593.20 L120.70,593.20 L121.40,593.20 L122.10,593.20 L122.80,593.20 L123.50,593.20 L124.20,593.20 L124.90,593.20 L125.60,593.20 L126.30,593.20 L127.00,593.20 L127.70,593.20 L128.40,593.20 L129.10,593.20 L129.80,593.20 L130.50,593.20 L131.20,593.20 L131.90,593.20 L132.60,593.20 L133.30,593.20 L134.00,593.20 L134.70,593.20 L135.40,593.20 L136.10,593.20 L136.80,593.20 L137.50,593.20 L138.20,593.20 L138.90,593.20 L139.60,593.20 L140.30,593.20 L141.00,593.20 L141.70,593.20 L142.40,593.20 L143.10,593.20 L143.80,593.20 L144.50,593.20 L145.20,593.20 L145.90,593.20 L146.60,593.20 L147.30,593.20 L148.00,593.20 L148.70,593.20 L149.40,593.20 L150.10,593.20 L150.80,593.20 L151.50,593.20 L152.20,593.20 L152.90,593.20 L153.60,593.20 L154.30,593.20 L155.00,593.20 L155.70,593.20 L156.40,593.20 L157.10,593.20 L157.80,593.20 L158.50,593.20 L159.20,593.20 L159.90,593.20 L160.60,593.20 L161.30,593.20 L162.00,593.20 L162.70,593.20 L163.40,593.20 L164.10,593.20 L164.80,593.20 L165.50,593.20 L166.20,593.20 L166.90,593.20 L167.60,593.20 L168.30,593.20 L169.00,593.20 L169.70,593.20 L170.40,593.20 L171.10,593.20 L171.80,593.20 L172.50,593.20 L173.20,593.20 L173.90,593.20 L174.60,593.20 L175.30,593.20 L176.00,593.20 L176.70,593.20 L177.40,593.20 L178.10,593.20 L178.80,593.20 L179.50,593.20 L180.20,593.20 L180.90,593.20 L181.60,593.20 L182.30,593.20 L183.00,593.20 L183.70,593.20 L184.40,593.20 L185.10,593.20 L185.80,593.20 L186.50,593.20 L187.20,593.20 L187.90,593.20 L188.60,593.20 L189.30,593.20 L190.00,593.20 L190.70,593.20 L191.40,593.20 L192.10,593.20 L192.80,593.20 L193.50,593.20 L194.20,593.20 L194.90,593.20 L195.60,593.20 L196.30,593.20 L197.00,593.20 L197.70,593.20 L198.40,593.20 L199.10,593.20 L199.80,593.20 L200.50,593.20 L201.20,593.20 L201.90,593.20 L202.60,593.20 L203.30,593.20 L204.00,593.20 L204.70,593.20 L205.40,593.20 L206.10,593.20 L206.80,593.20 L207.50,593.20 L208.20,593.20 L208.90,593.20 L209.60,593.20 L210.30,593.20 L211.00,593.20 L211.70,593.20 L212.40,593.20 L213.10,593.20 L213.80,593.20 L214.50,593.20 L215.20,593.20 L215.90,593.20 L216.60,593.20 L217.30,593.20 L218.00,593.20 L218.70,593.20 L219.40,593.20 L220.10,593.20 L220.80,593.20 L221.50,593.20 L222.20,593.20 L222.90,593.20 L223.60,593.20 L224.30,593.20 L225.00,593.20 L225.70,593.20 L226.40,593.20 L227.10,593.20 L227.80,593.20 L228.50,593.20 L229.20,593.20 L229.90,593.20 L230.60,593.20 L231.30,593.20 L232.00,593.20 L232.70,593.20 L233.40,593.20 L234.10,593.20 L234.80,593.20 L235.50,593.20 L236.20,593.20 L236.90,593.20 L237.60,593.20 L238.30,593.20 L239.00,593.20 L239.70,593.20 L240.40,593.20 L241.10,593.20 L241.80,593.20 L242.50,593.20 L243.20,593.20 L243.90,593.20 L244.60,593.20 L245.30,593.20 L246.00,593.20 L246.70,593.20 L247.40,593.20 L248.10,593.20 L248.80,593.20 L249.50,593.20 L250.20,593.20 L250.90,593.20 L251.60,593.20 L252.30,593.20 L253.00,593.20 L253.70,593.20 L254.40,593.20 L255.10,593.20 L255.80,593.20 L256.50,593.20 L257.20,593.20 L257.90,593.20 L258.60,593.20 L259.30,593.20 L260.00,593.20 L260.70,593.20 L261.40,593.20 L262.10,593.20 L262.80,593.20 L263.50,593.20 L264.20,593.20 L264.90,593.20 L265.60,593.20 L266.30,593.20 L267.00,593.20 L267.70,593.20 L268.40,593.20 L269.10,593.20 L269.80,593.20 L270.50,593.20 L271.20,593.20 L271.90,593.20 L272.60,593.20 L273.30,593.20 L274.00,593.20 L274.70,593.20 L275.40,593.20 L276.10,593.20 L276.80,593.20 L277.50,593.20 L278.20,593.20 L278.90,593.20 L279.60,593.20 L280.30,593.20 L281.00,593.20 L281.70,593.20 L282.40,593.20 L283.10,593.20 L283.80,593.20 L284.50,593.20 L285.20,593.20 L285.90,593.20 L286.60,593.20 L287.30,593.20 L288.00,593.20 L288.70,593.20 L289.40,593.20 L290.10,593.20 L290.80,593.20 L291.50,593.20 L292.20,593.20 L292.90,593.20 L293.60,593.20 L294.30,593.20 L295.00,593.20 L295.70,593.20 L296.40,593.20 L297.10,593.20 L297.80,593.20 L298.50,593.20 L299.20,593.20 L299.90,593.20 L300.60,593.20 L301.30,593.20 L302.00,593.20 L302.70,593.20 L303.40,593.20 L304.10,593.20 L304.80,593.20 L305.50,593.20 L306.20,593.20 L306.90,593.20 L307.60,593.20 L308.30,593.20 L309.00,593.20 L309.70,593.20 L310.40,593.20 L311.10,593.20 L311.80,593.20 L312.50,593.20 L313.20,593.20 L313.90,593.20 L314.60,593.20 L315.30,593.20 L316.00,593.20 L316.70,593.20 L317.40,593.20 L318.10,593.20 L318.80,593.20 L319.50,593.20 L320.20,593.20 L320.90,593.20 L321.60,593.20 L322.30,593.20 L323.00,593.20 L323.70,593.20 L324.40,593.20 L325.10,593.20 L325.80,593.20 L326.50,593.20 L327.20,593.20 L327.90,593.20 L328.60,593.20 L329.30,593.20 L330.00,593.20 L330.70,593.20 L331.40,593.20 L332.10,593.20 L332.80,593.20 L333.50,593.20 L334.20,593.20 L334.90,593.20 L335.60,593.20 L336.30,593.20 L337.00,593.20 L337.70,593.20 L338.40,593.20 L339.10,593.20 L339.80,593.20 L340.50,593.20 L341.20,593.20 L341.90,593.20 L342.60,593.20 L343.30,593.20 L344.00,593.20 L344.70,593.20 L345.40,593.20 L346.10,593.20 L346.80,593.20 L347.50,593.20 L348.20,593.20 L348.90,593.20 L349.60,593.20 L350.30,593.20 L351.00,593.20 L351.70,593.20 L352.40,593.20 L353.10,593.20 L353.80,593.20 L354.50,593.20 L355.20,593.20 L355.90,593.20 L356.60,593.20 L357.30,593.20 L358.00,593.20 L358.70,593.20 L359.40,593.20 L360.10,593.20 L360.80,593.20 L361.50,593.20 L362.20,593.20 L362.90,593.20 L363.60,593.20 L364.30,593.20 L365.00,593.20 L365.70,593.20 L366.40,593.20 L367.10,593.20 L367.80,593.20 L368.50,593.20 L369.20,593.20 L369.90,593.20 L370.60,593.20 L371.30,593.20 L372.00,593.20 L372.70,593.20 L373.40,593.20 L374.10,593.20 L374.80,593.20 L375.50,593.20 L376.20,593.20 L376.90,593.20 L377.60,593.20 L378.30,593.20 L379.00,593.20 L379.70,593.20 L380.40,593.20 L381.10,593.20 L381.80,593.20 L382.50,593.20 L383.20,593.20 L383.90,593.20 L384.60,593.20 L385.30,593.20 L386.00,593.20 L386.70,593.20 L387.40,593.20 L388.10,593.20 L388.80,593.20 L389.50,593.20 L390.20,593.20 L390.90,593.20 L391.60,593.20 L392.30,593.20 L393.00,593.20 L393.70,593.20 L394.40,593.20 L395.10,593.20 L395.80,593.20 L396.50,593.20 L397.20,593.20 L397.90,593.20 L398.60,593.20 L399.30,593.20 L400.00,593.20 L400.70,593.20 L401.40,593.20 L402.10,593.20 L402.80,593.20 L403.50,593.20 L404.20,593.20 L404.90,593.20 L405.60,593.20 L406.30,593.20 L407.00,593.20 L407.70,593.20 L408.40,593.20 L409.10,593.20 L409.80,593.20 L410.50,593.20 L411.20,593.20 L411.90,593.20 L412.60,593.20 L413.30,593.20 L414.00,593.20 L414.70,593.20 L415.40,593.20 L416.10,593.20 L416.80,593.20 L417.50,593.20 L418.20,593.20 L418.90,593.20 L419.60,593.20 L420.30,593.20 L421.00,593.20 L421.70,593.20 L422.40,593.20 L423.10,593.20 L423.80,593.20 L424.50,593.20 L425.20,593.20 L425.90,593.20 L426.60,593.20 L427.30,593.20 L428.00,593.20 L428.70,593.20 L429.40,593.20 L430.10,593.20 L430.80,593.20 L431.50,593.20 L432.20,593.20 L432.90,593.20 L433.60,593.20 L434.30,593.20 L435.00,593.20 L435.70,593.20 L436.40,593.20 L437.10,593.20 L437.80,593.20 L438.50,593.20 L439.20,593.20 L439.90,593.20 L440.60,593.20 L441.30,593.20 L442.00,593.20 L442.70,593.20 L443.40,593.20 L444.10,593.20 L444.80,593.20 L445.50,593.20 L446.20,593.20 L446.90,593.20 L447.60,593.20 L448.30,593.20 L449.00,593.20 L449.70,593.20 L450.40,593.20 L451.10,593.20 L451.80,593.20 L452.50,593.20 L453.20,593.20 L453.90,593.20 L454.60,593.20 L455.30,593.20 L456.00,593.20 L456.00,593.20" fill="none" stroke="#1e7e1e" stroke-width="2.3" stroke-dasharray="7.9,5,2.2,5.6,2.2,4.8"/>
<path d="M116.50,592.77 L117.20,592.71 L117.90,592.66 L118.60,592.60 L119.30,592.54 L120.00,592.49 L120.70,592.43 L121.40,592.38 L122.10,592.33 L122.80,592.28 L123.50,592.23 L124.20,592.18 L124.90,592.13 L125.60,592.08 L126.30,592.03 L127.00,591.99 L127.70,591.94 L128.40,591.90 L129.10,591.86 L129.80,591.82 L130.50,591.77 L131.20,591.73 L131.90,591.69 L132.60,591.65 L133.30,591.62 L134.00,591.58 L134.70,591.54 L135.40,591.51 L136.10,591.47 L136.80,591.44 L137.50,591.40 L138.20,591.37 L138.90,591.34 L139.60,591.31 L140.30,591.27 L141.00,591.24 L141.70,591.21 L142.40,591.18 L143.10,591.15 L143.80,591.13 L144.50,591.10 L145.20,591.07 L145.90,591.04 L146.60,591.02 L147.30,590.99 L148.00,590.96 L148.70,590.94 L149.40,590.91 L150.10,590.89 L150.80,590.87 L151.50,590.84 L152.20,590.82 L152.90,590.80 L153.60,590.77 L154.30,590.75 L155.00,590.73 L155.70,590.71 L156.40,590.69 L157.10,590.66 L157.80,590.64 L158.50,590.62 L159.20,590.60 L159.90,590.58 L160.60,590.56 L161.30,590.54 L162.00,590.52 L162.70,590.50 L163.40,590.48 L164.10,590.46 L164.80,590.44 L165.50,590.42 L166.20,590.40 L166.90,590.38 L167.60,590.36 L168.30,590.34 L169.00,590.32 L169.70,590.30 L170.40,590.28 L171.10,590.26 L171.80,590.24 L172.50,590.22 L173.20,590.20 L173.90,590.18 L174.60,590.16 L175.30,590.14 L176.00,590.12 L176.70,590.10 L177.40,590.08 L178.10,590.06 L178.80,590.03 L179.50,590.01 L180.20,589.99 L180.90,589.97 L181.60,589.94 L182.30,589.92 L183.00,589.90 L183.70,589.87 L184.40,589.85 L185.10,589.83 L185.80,589.80 L186.50,589.77 L187.20,589.75 L187.90,589.72 L188.60,589.70 L189.30,589.67 L190.00,589.64 L190.70,589.61 L191.40,589.58 L192.10,589.56 L192.80,589.53 L193.50,589.49 L194.20,589.46 L194.90,589.43 L195.60,589.40 L196.30,589.37 L197.00,589.33 L197.70,589.30 L198.40,589.27 L199.10,589.23 L199.80,589.19 L200.50,589.16 L201.20,589.12 L201.90,589.08 L202.60,589.04 L203.30,589.00 L204.00,588.96 L204.70,588.92 L205.40,588.88 L206.10,588.83 L206.80,588.79 L207.50,588.74 L208.20,588.70 L208.90,588.65 L209.60,588.60 L210.30,588.56 L211.00,588.51 L211.70,588.46 L212.40,588.40 L213.10,588.35 L213.80,588.30 L214.50,588.24 L215.20,588.19 L215.90,588.13 L216.60,588.07 L217.30,588.01 L218.00,587.95 L218.70,587.89 L219.40,587.83 L220.10,587.77 L220.80,587.70 L221.50,587.64 L222.20,587.57 L222.90,587.50 L223.60,587.43 L224.30,587.36 L225.00,587.29 L225.70,587.22 L226.40,587.14 L227.10,587.07 L227.80,586.99 L228.50,586.91 L229.20,586.83 L229.90,586.75 L230.60,586.67 L231.30,586.58 L232.00,586.50 L232.70,586.41 L233.40,586.32 L234.10,586.23 L234.80,586.14 L235.50,586.05 L236.20,585.96 L236.90,585.86 L237.60,585.76 L238.30,585.66 L239.00,585.56 L239.70,585.46 L240.40,585.36 L241.10,585.25 L241.80,585.15 L242.50,585.04 L243.20,584.93 L243.90,584.82 L244.60,584.70 L245.30,584.59 L246.00,584.47 L246.70,584.35 L247.40,584.23 L248.10,584.11 L248.80,583.98 L249.50,583.86 L250.20,583.73 L250.90,583.60 L251.60,583.47 L252.30,583.34 L253.00,583.20 L253.70,583.06 L254.40,582.93 L255.10,582.78 L255.80,582.64 L256.50,582.50 L257.20,582.35 L257.90,582.20 L258.60,582.05 L259.30,581.90 L260.00,581.74 L260.70,581.59 L261.40,581.43 L262.10,581.27 L262.80,581.10 L263.50,580.94 L264.20,580.77 L264.90,580.60 L265.60,580.43 L266.30,580.26 L267.00,580.08 L267.70,579.90 L268.40,579.72 L269.10,579.54 L269.80,579.35 L270.50,579.17 L271.20,578.98 L271.90,578.78 L272.60,578.59 L273.30,578.39 L274.00,578.20 L274.70,577.99 L275.40,577.79 L276.10,577.58 L276.80,577.38 L277.50,577.17 L278.20,576.95 L278.90,576.74 L279.60,576.52 L280.30,576.30 L281.00,576.08 L281.70,575.85 L282.40,575.62 L283.10,575.39 L283.80,575.16 L284.50,574.92 L285.20,574.68 L285.90,574.44 L286.60,574.20 L287.30,573.95 L288.00,573.70 L288.70,573.45 L289.40,573.20 L290.10,572.94 L290.80,572.68 L291.50,572.42 L292.20,572.15 L292.90,571.88 L293.60,571.61 L294.30,571.34 L295.00,571.06 L295.70,570.78 L296.40,570.50 L297.10,570.22 L297.80,569.93 L298.50,569.64 L299.20,569.35 L299.90,569.05 L300.60,568.75 L301.30,568.45 L302.00,568.14 L302.70,567.83 L303.40,567.52 L304.10,567.21 L304.80,566.89 L305.50,566.57 L306.20,566.25 L306.90,565.92 L307.60,565.59 L308.30,565.25 L309.00,564.92 L309.70,564.58 L310.40,564.23 L311.10,563.89 L311.80,563.54 L312.50,563.18 L313.20,562.83 L313.90,562.47 L314.60,562.10 L315.30,561.74 L316.00,561.37 L316.70,560.99 L317.40,560.61 L318.10,560.23 L318.80,559.85 L319.50,559.46 L320.20,559.07 L320.90,558.67 L321.60,558.27 L322.30,557.87 L323.00,557.46 L323.70,557.05 L324.40,556.63 L325.10,556.21 L325.80,555.79 L326.50,555.36 L327.20,554.93 L327.90,554.50 L328.60,554.06 L329.30,553.62 L330.00,553.17 L330.70,552.72 L331.40,552.26 L332.10,551.81 L332.80,551.34 L333.50,550.87 L334.20,550.40 L334.90,549.93 L335.60,549.45 L336.30,548.96 L337.00,548.47 L337.70,547.98 L338.40,547.48 L339.10,546.98 L339.80,546.47 L340.50,545.96 L341.20,545.45 L341.90,544.93 L342.60,544.40 L343.30,543.87 L344.00,543.34 L344.70,542.80 L345.40,542.26 L346.10,541.71 L346.80,541.16 L347.50,540.60 L348.20,540.04 L348.90,539.47 L349.60,538.90 L350.30,538.33 L351.00,537.74 L351.70,537.16 L352.40,536.57 L353.10,535.97 L353.80,535.37 L354.50,534.76 L355.20,534.16 L355.90,533.54 L356.60,532.92 L357.30,532.30 L358.00,531.68 L358.70,531.05 L359.40,530.42 L360.10,529.79 L360.80,529.15 L361.50,528.51 L362.20,527.87 L362.90,527.23 L363.60,526.59 L364.30,525.95 L365.00,525.31 L365.70,524.67 L366.40,524.02 L367.10,523.38 L367.80,522.74 L368.50,522.10 L369.20,521.46 L369.90,520.82 L370.60,520.18 L371.30,519.55 L372.00,518.92 L372.70,518.29 L373.40,517.66 L374.10,517.03 L374.80,516.41 L375.50,515.80 L376.20,515.18 L376.90,514.58 L377.60,513.97 L378.30,513.37 L379.00,512.78 L379.70,512.19 L380.40,511.60 L381.10,511.03 L381.80,510.46 L382.50,509.89 L383.20,509.33 L383.90,508.78 L384.60,508.24 L385.30,507.70 L386.00,507.17 L386.70,506.65 L387.40,506.14 L388.10,505.63 L388.80,505.14 L389.50,504.65 L390.20,504.18 L390.90,503.71 L391.60,503.26 L392.30,502.81 L393.00,502.37 L393.70,501.95 L394.40,501.54 L395.10,501.14 L395.80,500.75 L396.50,500.37 L397.20,500.00 L397.90,499.65 L398.60,499.31 L399.30,498.98 L400.00,498.67 L400.70,498.37 L401.40,498.08 L402.10,497.81 L402.80,497.55 L403.50,497.31 L404.20,497.08 L404.90,496.87 L405.60,496.67 L406.30,496.49 L407.00,496.32 L407.70,496.17 L408.40,496.03 L409.10,495.91 L409.80,495.80 L410.50,495.70 L411.20,495.62 L411.90,495.55 L412.60,495.50 L413.30,495.45 L414.00,495.42 L414.70,495.40 L415.40,495.40 L416.10,495.40 L416.80,495.42 L417.50,495.45 L418.20,495.49 L418.90,495.54 L419.60,495.60 L420.30,495.67 L421.00,495.75 L421.70,495.84 L422.40,495.94 L423.10,496.05 L423.80,496.17 L424.50,496.30 L425.20,496.44 L425.90,496.58 L426.60,496.73 L427.30,496.90 L428.00,497.06 L428.70,497.24 L429.40,497.43 L430.10,497.62 L430.80,497.81 L431.50,498.02 L432.20,498.23 L432.90,498.45 L433.60,498.67 L434.30,498.90 L435.00,499.13 L435.70,499.37 L436.40,499.61 L437.10,499.86 L437.80,500.11 L438.50,500.37 L439.20,500.63 L439.90,500.89 L440.60,501.16 L441.30,501.43 L442.00,501.70 L442.70,501.98 L443.40,502.26 L444.10,502.54 L444.80,502.82 L445.50,503.11 L446.20,503.39 L446.90,503.68 L447.60,503.97 L448.30,504.26 L449.00,504.55 L449.70,504.84 L450.40,505.13 L451.10,505.42 L451.80,505.71 L452.50,505.99 L453.20,506.28 L453.90,506.57 L454.60,506.85 L455.30,507.14 L456.00,507.42 L456.00,507.42" fill="none" stroke="#f08a20" stroke-width="1.9" stroke-dasharray="1.7,1.67"/>
<path d="M116.50,592.45 L117.20,592.44 L117.90,592.42 L118.60,592.41 L119.30,592.40 L120.00,592.39 L120.70,592.38 L121.40,592.37 L122.10,592.37 L122.80,592.36 L123.50,592.35 L124.20,592.34 L124.90,592.33 L125.60,592.32 L126.30,592.31 L127.00,592.30 L127.70,592.29 L128.40,592.28 L129.10,592.27 L129.80,592.27 L130.50,592.26 L131.20,592.25 L131.90,592.24 L132.60,592.23 L133.30,592.22 L134.00,592.21 L134.70,592.20 L135.40,592.20 L136.10,592.19 L136.80,592.18 L137.50,592.17 L138.20,592.16 L138.90,592.15 L139.60,592.14 L140.30,592.13 L141.00,592.13 L141.70,592.12 L142.40,592.11 L143.10,592.10 L143.80,592.09 L144.50,592.08 L145.20,592.07 L145.90,592.06 L146.60,592.05 L147.30,592.04 L148.00,592.03 L148.70,592.02 L149.40,592.01 L150.10,592.00 L150.80,591.99 L151.50,591.98 L152.20,591.97 L152.90,591.96 L153.60,591.94 L154.30,591.93 L155.00,591.92 L155.70,591.91 L156.40,591.90 L157.10,591.88 L157.80,591.87 L158.50,591.86 L159.20,591.85 L159.90,591.83 L160.60,591.82 L161.30,591.80 L162.00,591.79 L162.70,591.78 L163.40,591.76 L164.10,591.75 L164.80,591.73 L165.50,591.71 L166.20,591.70 L166.90,591.68 L167.60,591.66 L168.30,591.65 L169.00,591.63 L169.70,591.61 L170.40,591.59 L171.10,591.58 L171.80,591.56 L172.50,591.54 L173.20,591.52 L173.90,591.50 L174.60,591.48 L175.30,591.46 L176.00,591.43 L176.70,591.41 L177.40,591.39 L178.10,591.37 L178.80,591.34 L179.50,591.32 L180.20,591.30 L180.90,591.27 L181.60,591.25 L182.30,591.22 L183.00,591.20 L183.70,591.17 L184.40,591.14 L185.10,591.11 L185.80,591.09 L186.50,591.06 L187.20,591.03 L187.90,591.00 L188.60,590.97 L189.30,590.94 L190.00,590.91 L190.70,590.88 L191.40,590.84 L192.10,590.81 L192.80,590.78 L193.50,590.74 L194.20,590.71 L194.90,590.67 L195.60,590.64 L196.30,590.60 L197.00,590.56 L197.70,590.52 L198.40,590.49 L199.10,590.45 L199.80,590.41 L200.50,590.37 L201.20,590.32 L201.90,590.28 L202.60,590.24 L203.30,590.20 L204.00,590.15 L204.70,590.11 L205.40,590.06 L206.10,590.02 L206.80,589.97 L207.50,589.92 L208.20,589.87 L208.90,589.82 L209.60,589.77 L210.30,589.72 L211.00,589.67 L211.70,589.62 L212.40,589.57 L213.10,589.51 L213.80,589.46 L214.50,589.40 L215.20,589.35 L215.90,589.29 L216.60,589.23 L217.30,589.17 L218.00,589.11 L218.70,589.05 L219.40,588.99 L220.10,588.93 L220.80,588.86 L221.50,588.80 L222.20,588.74 L222.90,588.67 L223.60,588.60 L224.30,588.54 L225.00,588.47 L225.70,588.40 L226.40,588.33 L227.10,588.26 L227.80,588.18 L228.50,588.11 L229.20,588.04 L229.90,587.96 L230.60,587.88 L231.30,587.81 L232.00,587.73 L232.70,587.65 L233.40,587.57 L234.10,587.49 L234.80,587.41 L235.50,587.32 L236.20,587.24 L236.90,587.15 L237.60,587.07 L238.30,586.98 L239.00,586.89 L239.70,586.80 L240.40,586.71 L241.10,586.62 L241.80,586.53 L242.50,586.43 L243.20,586.34 L243.90,586.24 L244.60,586.15 L245.30,586.05 L246.00,585.95 L246.70,585.85 L247.40,585.75 L248.10,585.64 L248.80,585.54 L249.50,585.44 L250.20,585.33 L250.90,585.22 L251.60,585.11 L252.30,585.00 L253.00,584.89 L253.70,584.78 L254.40,584.67 L255.10,584.55 L255.80,584.44 L256.50,584.32 L257.20,584.20 L257.90,584.08 L258.60,583.96 L259.30,583.84 L260.00,583.71 L260.70,583.59 L261.40,583.46 L262.10,583.34 L262.80,583.21 L263.50,583.08 L264.20,582.95 L264.90,582.81 L265.60,582.68 L266.30,582.54 L267.00,582.41 L267.70,582.27 L268.40,582.13 L269.10,581.99 L269.80,581.85 L270.50,581.70 L271.20,581.56 L271.90,581.41 L272.60,581.27 L273.30,581.12 L274.00,580.97 L274.70,580.81 L275.40,580.66 L276.10,580.50 L276.80,580.35 L277.50,580.19 L278.20,580.03 L278.90,579.86 L279.60,579.70 L280.30,579.53 L281.00,579.36 L281.70,579.19 L282.40,579.02 L283.10,578.84 L283.80,578.67 L284.50,578.49 L285.20,578.30 L285.90,578.12 L286.60,577.93 L287.30,577.75 L288.00,577.55 L288.70,577.36 L289.40,577.17 L290.10,576.97 L290.80,576.77 L291.50,576.56 L292.20,576.36 L292.90,576.15 L293.60,575.94 L294.30,575.72 L295.00,575.50 L295.70,575.28 L296.40,575.06 L297.10,574.83 L297.80,574.60 L298.50,574.37 L299.20,574.14 L299.90,573.90 L300.60,573.66 L301.30,573.41 L302.00,573.17 L302.70,572.91 L303.40,572.66 L304.10,572.40 L304.80,572.14 L305.50,571.88 L306.20,571.61 L306.90,571.34 L307.60,571.06 L308.30,570.78 L309.00,570.50 L309.70,570.22 L310.40,569.93 L311.10,569.63 L311.80,569.33 L312.50,569.03 L313.20,568.73 L313.90,568.42 L314.60,568.11 L315.30,567.79 L316.00,567.47 L316.70,567.14 L317.40,566.81 L318.10,566.48 L318.80,566.14 L319.50,565.80 L320.20,565.45 L320.90,565.10 L321.60,564.75 L322.30,564.39 L323.00,564.03 L323.70,563.67 L324.40,563.30 L325.10,562.93 L325.80,562.56 L326.50,562.18 L327.20,561.80 L327.90,561.42 L328.60,561.04 L329.30,560.65 L330.00,560.27 L330.70,559.88 L331.40,559.49 L332.10,559.09 L332.80,558.70 L333.50,558.30 L334.20,557.90 L334.90,557.51 L335.60,557.11 L336.30,556.71 L337.00,556.31 L337.70,555.90 L338.40,555.50 L339.10,555.10 L339.80,554.70 L340.50,554.30 L341.20,553.89 L341.90,553.49 L342.60,553.09 L343.30,552.69 L344.00,552.29 L344.70,551.89 L345.40,551.49 L346.10,551.10 L346.80,550.70 L347.50,550.31 L348.20,549.91 L348.90,549.52 L349.60,549.13 L350.30,548.74 L351.00,548.36 L351.70,547.98 L352.40,547.59 L353.10,547.22 L353.80,546.84 L354.50,546.47 L355.20,546.10 L355.90,545.73 L356.60,545.36 L357.30,545.00 L358.00,544.65 L358.70,544.29 L359.40,543.94 L360.10,543.59 L360.80,543.25 L361.50,542.91 L362.20,542.58 L362.90,542.24 L363.60,541.92 L364.30,541.60 L365.00,541.28 L365.70,540.97 L366.40,540.66 L367.10,540.36 L367.80,540.06 L368.50,539.77 L369.20,539.48 L369.90,539.20 L370.60,538.92 L371.30,538.65 L372.00,538.38 L372.70,538.12 L373.40,537.86 L374.10,537.61 L374.80,537.36 L375.50,537.11 L376.20,536.87 L376.90,536.63 L377.60,536.40 L378.30,536.16 L379.00,535.93 L379.70,535.70 L380.40,535.47 L381.10,535.25 L381.80,535.02 L382.50,534.80 L383.20,534.59 L383.90,534.37 L384.60,534.16 L385.30,533.95 L386.00,533.74 L386.70,533.54 L387.40,533.34 L388.10,533.14 L388.80,532.94 L389.50,532.75 L390.20,532.56 L390.90,532.37 L391.60,532.18 L392.30,532.00 L393.00,531.82 L393.70,531.64 L394.40,531.47 L395.10,531.30 L395.80,531.13 L396.50,530.96 L397.20,530.80 L397.90,530.64 L398.60,530.49 L399.30,530.33 L400.00,530.18 L400.70,530.04 L401.40,529.89 L402.10,529.75 L402.80,529.61 L403.50,529.47 L404.20,529.34 L404.90,529.21 L405.60,529.08 L406.30,528.95 L407.00,528.82 L407.70,528.69 L408.40,528.56 L409.10,528.44 L409.80,528.31 L410.50,528.19 L411.20,528.07 L411.90,527.94 L412.60,527.82 L413.30,527.69 L414.00,527.57 L414.70,527.44 L415.40,527.32 L416.10,527.19 L416.80,527.06 L417.50,526.94 L418.20,526.80 L418.90,526.67 L419.60,526.54 L420.30,526.40 L421.00,526.26 L421.70,526.12 L422.40,525.98 L423.10,525.84 L423.80,525.69 L424.50,525.54 L425.20,525.38 L425.90,525.22 L426.60,525.06 L427.30,524.90 L428.00,524.73 L428.70,524.55 L429.40,524.38 L430.10,524.19 L430.80,524.01 L431.50,523.82 L432.20,523.62 L432.90,523.42 L433.60,523.21 L434.30,523.00 L435.00,522.78 L435.70,522.56 L436.40,522.33 L437.10,522.09 L437.80,521.85 L438.50,521.60 L439.20,521.35 L439.90,521.09 L440.60,520.82 L441.30,520.54 L442.00,520.26 L442.70,519.96 L443.40,519.67 L444.10,519.36 L444.80,519.04 L445.50,518.72 L446.20,518.39 L446.90,518.05 L447.60,517.70 L448.30,517.34 L449.00,516.97 L449.70,516.59 L450.40,516.21 L451.10,515.81 L451.80,515.41 L452.50,514.99 L453.20,514.56 L453.90,514.13 L454.60,513.68 L455.30,513.22 L456.00,512.75 L456.00,512.75" fill="none" stroke="#1414c4" stroke-width="2.9" stroke-linecap="round" stroke-dasharray="7.6,7.6,0.3,7.1"/>
<path d="M116.50,578.30 L117.20,578.02 L117.90,577.75 L118.60,577.48 L119.30,577.21 L120.00,576.94 L120.70,576.68 L121.40,576.42 L122.10,576.16 L122.80,575.90 L123.50,575.64 L124.20,575.38 L124.90,575.12 L125.60,574.86 L126.30,574.60 L127.00,574.34 L127.70,574.07 L128.40,573.81 L129.10,573.54 L129.80,573.27 L130.50,572.99 L131.20,572.72 L131.90,572.43 L132.60,572.15 L133.30,571.86 L134.00,571.56 L134.70,571.26 L135.40,570.95 L136.10,570.64 L136.80,570.32 L137.50,570.00 L138.20,569.67 L138.90,569.33 L139.60,568.98 L140.30,568.63 L141.00,568.27 L141.70,567.90 L142.40,567.52 L143.10,567.13 L143.80,566.74 L144.50,566.33 L145.20,565.92 L145.90,565.51 L146.60,565.08 L147.30,564.65 L148.00,564.21 L148.70,563.77 L149.40,563.32 L150.10,562.87 L150.80,562.42 L151.50,561.96 L152.20,561.50 L152.90,561.03 L153.60,560.57 L154.30,560.10 L155.00,559.62 L155.70,559.15 L156.40,558.66 L157.10,558.17 L157.80,557.67 L158.50,557.17 L159.20,556.66 L159.90,556.14 L160.60,555.60 L161.30,555.06 L162.00,554.51 L162.70,553.95 L163.40,553.37 L164.10,552.78 L164.80,552.18 L165.50,551.57 L166.20,550.94 L166.90,550.31 L167.60,549.67 L168.30,549.02 L169.00,548.37 L169.70,547.70 L170.40,547.03 L171.10,546.36 L171.80,545.68 L172.50,544.99 L173.20,544.30 L173.90,543.61 L174.60,542.92 L175.30,542.21 L176.00,541.51 L176.70,540.79 L177.40,540.07 L178.10,539.34 L178.80,538.60 L179.50,537.85 L180.20,537.09 L180.90,536.32 L181.60,535.54 L182.30,534.74 L183.00,533.93 L183.70,533.10 L184.40,532.26 L185.10,531.40 L185.80,530.52 L186.50,529.62 L187.20,528.70 L187.90,527.77 L188.60,526.82 L189.30,525.85 L190.00,524.86 L190.70,523.86 L191.40,522.85 L192.10,521.83 L192.80,520.79 L193.50,519.75 L194.20,518.70 L194.90,517.65 L195.60,516.59 L196.30,515.52 L197.00,514.45 L197.70,513.38 L198.40,512.30 L199.10,511.21 L199.80,510.13 L200.50,509.03 L201.20,507.94 L201.90,506.84 L202.60,505.74 L203.30,504.63 L204.00,503.52 L204.70,502.40 L205.40,501.29 L206.10,500.16 L206.80,499.03 L207.50,497.89 L208.20,496.74 L208.90,495.58 L209.60,494.41 L210.30,493.22 L211.00,492.01 L211.70,490.79 L212.40,489.55 L213.10,488.28 L213.80,487.00 L214.50,485.69 L215.20,484.36 L215.90,483.01 L216.60,481.64 L217.30,480.25 L218.00,478.84 L218.70,477.42 L219.40,475.98 L220.10,474.52 L220.80,473.05 L221.50,471.57 L222.20,470.07 L222.90,468.57 L223.60,467.06 L224.30,465.54 L225.00,464.02 L225.70,462.51 L226.40,461.01 L227.10,459.51 L227.80,458.03 L228.50,456.57 L229.20,455.12 L229.90,453.70 L230.60,452.31 L231.30,450.93 L232.00,449.58 L232.70,448.24 L233.40,446.91 L234.10,445.59 L234.80,444.26 L235.50,442.93 L236.20,441.59 L236.90,440.25 L237.60,438.90 L238.30,437.55 L239.00,436.20 L239.70,434.85 L240.40,433.50 L241.10,432.15 L241.80,430.81 L242.50,429.48 L243.20,428.15 L243.90,426.84 L244.60,425.53 L245.30,424.23 L246.00,422.94 L246.70,421.65 L247.40,420.37 L248.10,419.08 L248.80,417.80 L249.50,416.51 L250.20,415.22 L250.90,413.93 L251.60,412.63 L252.30,411.33 L253.00,410.03 L253.70,408.75 L254.40,407.48 L255.10,406.23 L255.80,405.00 L256.50,403.80 L257.20,402.64 L257.90,401.52 L258.60,400.45 L259.30,399.42 L260.00,398.44 L260.70,397.51 L261.40,396.62 L262.10,395.76 L262.80,394.94 L263.50,394.15 L264.20,393.40 L264.90,392.67 L265.60,391.96 L266.30,391.28 L267.00,390.62 L267.70,389.97 L268.40,389.34 L269.10,388.72 L269.80,388.12 L270.50,387.53 L271.20,386.96 L271.90,386.42 L272.60,385.89 L273.30,385.39 L274.00,384.91 L274.70,384.45 L275.40,384.03 L276.10,383.63 L276.80,383.27 L277.50,382.93 L278.20,382.62 L278.90,382.34 L279.60,382.08 L280.30,381.85 L281.00,381.64 L281.70,381.45 L282.40,381.28 L283.10,381.13 L283.80,381.00 L284.50,380.89 L285.20,380.80 L285.90,380.73 L286.60,380.67 L287.30,380.63 L288.00,380.61 L288.70,380.60 L289.40,380.60 L290.10,380.62 L290.80,380.66 L291.50,380.71 L292.20,380.77 L292.90,380.84 L293.60,380.93 L294.30,381.02 L295.00,381.13 L295.70,381.25 L296.40,381.38 L297.10,381.52 L297.80,381.67 L298.50,381.83 L299.20,382.00 L299.90,382.17 L300.60,382.36 L301.30,382.55 L302.00,382.75 L302.70,382.96 L303.40,383.18 L304.10,383.40 L304.80,383.63 L305.50,383.88 L306.20,384.13 L306.90,384.38 L307.60,384.65 L308.30,384.92 L309.00,385.20 L309.70,385.49 L310.40,385.78 L311.10,386.08 L311.80,386.39 L312.50,386.69 L313.20,387.01 L313.90,387.32 L314.60,387.63 L315.30,387.95 L316.00,388.26 L316.70,388.58 L317.40,388.89 L318.10,389.20 L318.80,389.51 L319.50,389.81 L320.20,390.11 L320.90,390.40 L321.60,390.70 L322.30,390.98 L323.00,391.27 L323.70,391.55 L324.40,391.83 L325.10,392.11 L325.80,392.38 L326.50,392.65 L327.20,392.91 L327.90,393.17 L328.60,393.43 L329.30,393.69 L330.00,393.94 L330.70,394.19 L331.40,394.43 L332.10,394.67 L332.80,394.91 L333.50,395.14 L334.20,395.36 L334.90,395.58 L335.60,395.80 L336.30,396.01 L337.00,396.21 L337.70,396.41 L338.40,396.61 L339.10,396.80 L339.80,396.98 L340.50,397.15 L341.20,397.32 L341.90,397.49 L342.60,397.65 L343.30,397.80 L344.00,397.95 L344.70,398.09 L345.40,398.23 L346.10,398.36 L346.80,398.48 L347.50,398.60 L348.20,398.71 L348.90,398.82 L349.60,398.92 L350.30,399.01 L351.00,399.09 L351.70,399.17 L352.40,399.24 L353.10,399.30 L353.80,399.35 L354.50,399.39 L355.20,399.43 L355.90,399.45 L356.60,399.47 L357.30,399.47 L358.00,399.47 L358.70,399.45 L359.40,399.42 L360.10,399.39 L360.80,399.34 L361.50,399.28 L362.20,399.21 L362.90,399.13 L363.60,399.03 L364.30,398.92 L365.00,398.79 L365.70,398.63 L366.40,398.45 L367.10,398.23 L367.80,397.98 L368.50,397.69 L369.20,397.36 L369.90,396.98 L370.60,396.55 L371.30,396.06 L372.00,395.50 L372.70,394.87 L373.40,394.18 L374.10,393.40 L374.80,392.56 L375.50,391.63 L376.20,390.61 L376.90,389.46 L377.60,388.16 L378.30,386.68 L379.00,385.00 L379.70,383.11 L380.40,381.02 L381.10,378.72 L381.80,376.25 L382.50,373.71 L383.20,371.19 L383.90,368.80 L384.60,366.63 L385.30,364.75 L386.00,363.35 L386.70,362.79 L387.40,363.27 L388.10,364.40 L388.80,365.82 L389.50,367.81 L390.20,370.77 L390.90,374.79 L391.60,379.40 L392.30,384.12 L393.00,388.79 L393.70,393.34 L394.40,397.97 L395.10,403.05 L395.80,408.67 L396.50,414.54 L397.20,420.38 L397.90,425.78 L398.60,430.45 L399.30,434.43 L400.00,437.95 L400.70,441.24 L401.40,444.48 L402.10,447.70 L402.80,450.89 L403.50,454.02 L404.20,457.06 L404.90,459.99 L405.60,462.79 L406.30,465.45 L407.00,467.98 L407.70,470.40 L408.40,472.71 L409.10,474.91 L409.80,477.03 L410.50,479.07 L411.20,481.03 L411.90,482.92 L412.60,484.75 L413.30,486.51 L414.00,488.22 L414.70,489.86 L415.40,491.44 L416.10,492.95 L416.80,494.41 L417.50,495.80 L418.20,497.13 L418.90,498.41 L419.60,499.63 L420.30,500.79 L421.00,501.91 L421.70,502.97 L422.40,503.99 L423.10,504.95 L423.80,505.88 L424.50,506.76 L425.20,507.61 L425.90,508.41 L426.60,509.18 L427.30,509.92 L428.00,510.62 L428.70,511.29 L429.40,511.93 L430.10,512.54 L430.80,513.13 L431.50,513.68 L432.20,514.21 L432.90,514.72 L433.60,515.20 L434.30,515.66 L435.00,516.11 L435.70,516.53 L436.40,516.93 L437.10,517.31 L437.80,517.68 L438.50,518.04 L439.20,518.37 L439.90,518.70 L440.60,519.01 L441.30,519.31 L442.00,519.60 L442.70,519.88 L443.40,520.15 L444.10,520.41 L444.80,520.67 L445.50,520.92 L446.20,521.16 L446.90,521.40 L447.60,521.64 L448.30,521.87 L449.00,522.11 L449.70,522.34 L450.40,522.58 L451.10,522.81 L451.80,523.05 L452.50,523.30 L453.20,523.54 L453.90,523.80 L454.60,524.06 L455.30,524.32 L456.00,524.60 L456.00,524.60" fill="none" stroke="#d0343a" stroke-width="2.2"/>
<path d="M116.5,362.7 V592.6 H456.0 V362.7 Z" fill="none" stroke="#484848" stroke-width="1.4"/>
<path d="M158.9,592.6 v-2.5 M158.9,362.7 v2.5 M201.4,592.6 v-4.5 M201.4,362.7 v4.5 M243.8,592.6 v-2.5 M243.8,362.7 v2.5 M286.2,592.6 v-4.5 M286.2,362.7 v4.5 M328.7,592.6 v-2.5 M328.7,362.7 v2.5 M371.1,592.6 v-4.5 M371.1,362.7 v4.5 M413.6,592.6 v-2.5 M413.6,362.7 v2.5 M116.5,569.6 h2.5 M116.5,546.6 h4.5 M116.5,523.6 h2.5 M116.5,500.6 h4.5 M116.5,477.6 h2.5 M116.5,454.7 h4.5 M116.5,431.7 h2.5 M116.5,408.7 h4.5 M116.5,385.7 h2.5" stroke="#222" stroke-width="1.3" fill="none"/>
<path d="M126.3,383.0 H169" fill="none" stroke="#000" stroke-width="2.3" stroke-dasharray="9.5,8.5"/>
<text x="172.6" y="389.5" class="tm" style="font-size:19px">J1</text>
<path d="M126.3,406.1 H169" fill="none" stroke="#d0343a" stroke-width="2.2"/>
<text x="172.6" y="412.6" class="tm" style="font-size:19px">J2</text>
<path d="M126.3,428.4 H169" fill="none" stroke="#e020e0" stroke-width="2.4" stroke-dasharray="2.5,8.4"/>
<text x="172.6" y="434.9" class="tm" style="font-size:19px">J3</text>
<path d="M126.3,450.9 H169" fill="none" stroke="#1e7e1e" stroke-width="2.3" stroke-dasharray="7.9,5,2.2,5.6,2.2,4.8"/>
<text x="172.6" y="457.4" class="tm" style="font-size:19px">J4</text>
<path d="M127.8,473.9 H169" fill="none" stroke="#1414c4" stroke-linecap="round" stroke-dasharray="7.6,7.6,0.3,7.1" stroke-width="3"/>
<text x="172.6" y="480.4" class="tm" style="font-size:19px">J5</text>
<path d="M126.3,497.0 H169" fill="none" stroke="#f08a20" stroke-width="1.9" stroke-dasharray="1.7,1.67"/>
<text x="172.6" y="503.5" class="tm" style="font-size:19px">J6</text>
<text x="110.5" y="599.1" class="tm" text-anchor="end">0.0</text>
<text x="110.5" y="553.1" class="tm" text-anchor="end">0.2</text>
<text x="110.5" y="507.1" class="tm" text-anchor="end">0.4</text>
<text x="110.5" y="461.2" class="tm" text-anchor="end">0.6</text>
<text x="110.5" y="415.2" class="tm" text-anchor="end">0.8</text>
<text x="110.5" y="369.2" class="tm" text-anchor="end">1.0</text>
<text x="116.5" y="614.5" class="tm" text-anchor="middle">2</text>
<text x="201.4" y="614.5" class="tm" text-anchor="middle">3</text>
<text x="286.2" y="614.5" class="tm" text-anchor="middle">4</text>
<text x="371.1" y="614.5" class="tm" text-anchor="middle">5</text>
<text x="456.0" y="614.5" class="tm" text-anchor="middle">6</text>
<text x="282" y="633.5" class="tm" text-anchor="middle" style="font-size:21.3px">Frequency, GHz</text>
<text transform="translate(77,477.2) rotate(-90)" class="tm" text-anchor="middle" style="font-size:21px">Moadl weighting coefficient</text>
<text x="260.7" y="664" class="tm" text-anchor="middle" style="font-size:26px">(b)</text>
<text x="260.9" y="345.6" class="tm" text-anchor="middle" style="font-size:26px">(a)</text>
</svg>
</body></html>
